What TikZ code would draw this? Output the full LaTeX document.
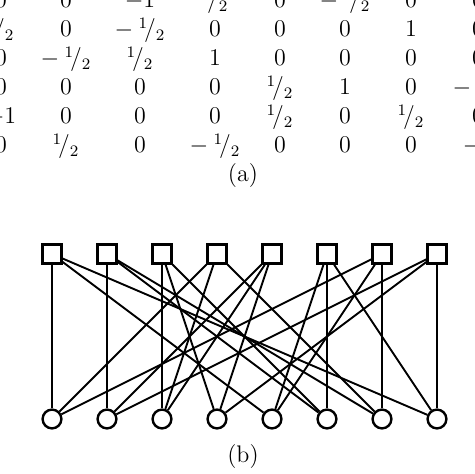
\documentclass[tikz,border=0pt]{standalone}
\usepackage{amsmath}
\usepackage{tikz}
\usetikzlibrary{positioning}
\newcommand{\hf}{{}^{1}\!/_{2}}
\tikzset{
  entry/.style={inner sep=0pt, anchor=base, font=\fontsize{12}{14}\selectfont},
  chknode/.style={rectangle, draw, line width=1.4pt, minimum size=9.2pt, inner sep=0pt},
  bitnode/.style={circle, draw, line width=1.2pt, minimum size=9.4pt, inner sep=0pt},
  link/.style={line width=0.95pt},
  lbl/.style={inner sep=1pt, font=\fontsize{12}{14}\selectfont},
}

\begin{document}
\begin{tikzpicture}[x=0.5pt, y=-0.5pt]
\path[use as bounding box, clip] (0,0) rectangle (474,474);

% matrix (its top rows lie outside the frame)
\foreach \y/\entries [count=\r] in {
    8/{0,0,-1,\hf,0,-\:\hf,0,0},
    37/{\hf,0,-\:\hf,0,0,0,1,0},
    66/{0,-\:\hf,\hf,1,0,0,0,0},
    95/{0,0,0,0,\hf,1,0,-\:\hf},
    124/{-1,0,0,0,\hf,0,\hf,0},
    153/{0,\hf,0,-\:\hf,0,0,0,-1}}
  \foreach \e [count=\c] in \entries {
    \pgfmathsetmacro{\xx}{{1,66,140,215,280,345,411,478}[\c-1]}
    \node[entry] (m\r-\c) at (\xx,\y) {$\e$};
  }
\node[lbl] (capa) at (243,176) {(a)};

% factor graph
\foreach \i [evaluate=\i as \x using 52+55*(\i-1)] in {1,...,8} {
  \node[chknode] (s\i) at (\x,254) {};
  \node[bitnode] (v\i) at (\x,419) {};
}
\foreach \s/\vs in {1/{1,5,8}, 2/{2,6,7}, 3/{3,4,6}, 4/{1,3,7},
                    5/{2,3,4}, 6/{5,6,8}, 7/{1,5,7}, 8/{2,4,8}}
  \foreach \v in \vs
    \draw[link] (s\s) -- (v\v);
\node[lbl] (capb) at (243,457) {(b)};
\end{tikzpicture}
\end{document}
